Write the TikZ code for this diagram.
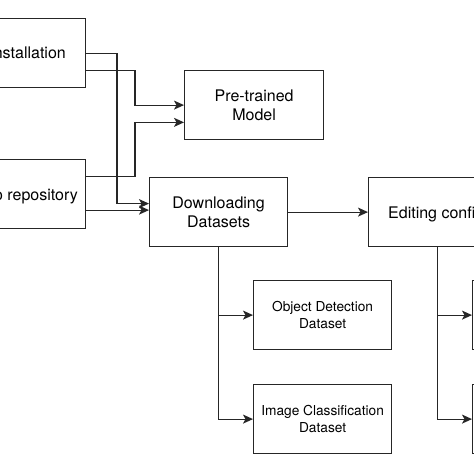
\documentclass[tikz,border=0pt]{standalone}
\usepackage{fontspec}
\setmainfont{TeX Gyre Heros}
\usetikzlibrary{arrows.meta}
\tikzset{
  box/.style={draw=black!85, line width=1.2pt, rectangle, inner sep=0pt, anchor=north west},
  bigtxt/.style={font=\fontsize{16}{19}\selectfont, align=center, inner sep=0pt},
  smalltxt/.style={font=\fontsize{13.7}{16.5}\selectfont, align=center, inner sep=0pt},
  conn/.style={draw=black!85, line width=1.2pt, -{Stealth[length=10pt,width=9pt,inset=2.5pt]}},
}
\begin{document}
\begin{tikzpicture}[x=1pt,y=-1pt]
\useasboundingbox (0,0) rectangle (474,474);
\fill[white] (0,0) rectangle (474,474);
\clip (0,0) rectangle (474,474);
% boxes
\node[box, minimum width=114pt, minimum height=69pt] (inst) at (-29,18) {};
\node[box, minimum width=114pt, minimum height=69pt] (repo) at (-29,159) {};
\node[box, minimum width=139pt, minimum height=69pt] (pre) at (184,70) {};
\node[box, minimum width=138pt, minimum height=69pt] (dl) at (149,177) {};
\node[box, minimum width=160pt, minimum height=69pt] (edit) at (368,177) {};
\node[box, minimum width=138pt, minimum height=69pt] (od) at (253,280) {};
\node[box, minimum width=138pt, minimum height=69pt] (ic) at (253,384) {};
\node[box, minimum width=100pt, minimum height=69pt] (ra) at (472,280) {};
\node[box, minimum width=100pt, minimum height=69pt] (rb) at (472,384) {};
% texts
\node[bigtxt, anchor=base east] (tinst) at (66,58) {Installation};
\node[bigtxt, anchor=base east] (trepo) at (78,200) {Cloning Yolo repository};
\node[bigtxt] (tpre) at (pre.center) {Pre-trained\\Model};
\node[bigtxt] (tdl) at (dl.center) {Downloading\\Datasets};
\node[bigtxt, anchor=base west] (tedit) at (388,218) {Editing configuration};
\node[smalltxt] (tod) at (od.center) {Object Detection\\Dataset};
\node[smalltxt] (tic) at (ic.center) {Image Classification\\Dataset};
% connectors
\coordinate (j1) at (117,0);
\coordinate (j2) at (135,0);
\draw[conn] (inst.east) -- (inst.east -| j1) |- ([yshift=8.5pt]dl.west);
\draw[conn] ([yshift=-17.5pt]inst.east) -- ([yshift=-17.5pt]inst.east -| j2) |- (pre.west);
\draw[conn] ([yshift=17.5pt]repo.east) -- ([yshift=17.5pt]repo.east -| j2) |- ([yshift=-17.25pt]pre.west);
\draw[conn] ([yshift=-16pt]repo.east) -- ([yshift=-16pt]repo.east -| dl.west);
\draw[conn] (dl.east) -- (dl.east -| edit.west);
\draw[conn] (dl.south) |- (od.west);
\draw[conn] (dl.south) |- (ic.west);
\draw[conn] ([xshift=-11pt]edit.south) |- (ra.west);
\draw[conn] ([xshift=-11pt]edit.south) |- (rb.west);
\end{tikzpicture}
\end{document}
